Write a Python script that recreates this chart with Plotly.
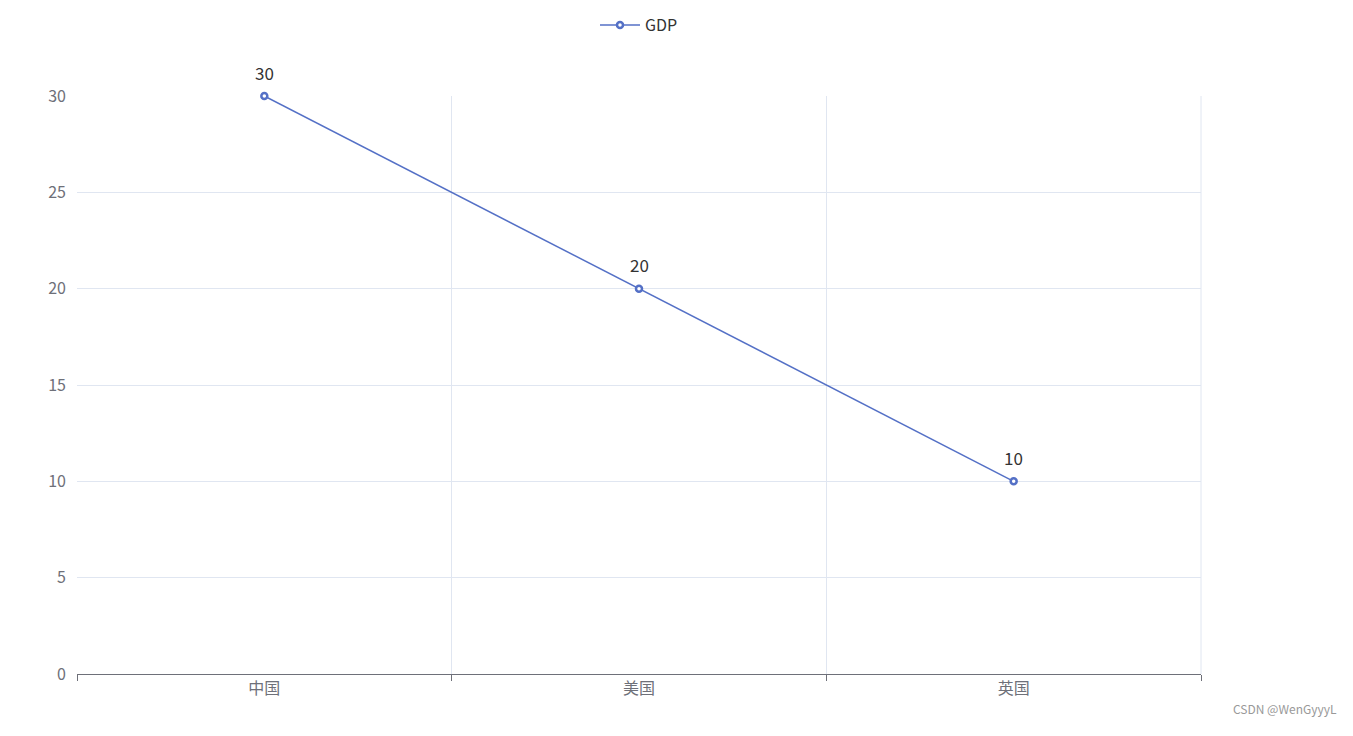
import plotly.graph_objects as go

categories = ["中国", "美国", "英国"]
gdp = [30, 20, 10]

fig = go.Figure()
fig.add_trace(go.Scatter(
    x=categories, y=gdp, name="GDP", mode="lines+markers",
    line=dict(color="#5470c6", width=1.5),
    marker=dict(symbol="circle", size=6, color="white", line=dict(color="#5470c6", width=2.5)),
    cliponaxis=False,
))
for c, v in zip(categories, gdp):
    fig.add_annotation(x=c, y=v, text=str(v), showarrow=False, yshift=24,
                       font=dict(size=17, color="#333"))
font = "Noto Sans CJK SC, Noto Sans, sans-serif"
fig.update_layout(
    width=1353, height=736, plot_bgcolor="white", paper_bgcolor="white",
    margin=dict(l=69, r=160, t=88, b=70),
    font=dict(family=font, size=16, color="#6E7079"),
    showlegend=True,
    legend=dict(orientation="h", x=0.5, xanchor="center", y=1.0, yref="container", yanchor="top",
                font=dict(size=16, color="#333"), itemwidth=40),
    xaxis=dict(type="category", tickson="boundaries", showgrid=True, gridcolor="#E0E6F1",
               showline=True, linecolor="#6E7079", ticks="outside", ticklen=6, tickcolor="#6E7079",
               range=[-0.5, 2.5], automargin=False),
    yaxis=dict(range=[0, 30], dtick=5, showgrid=True, gridcolor="#E0E6F1", zeroline=False,
               showline=False, ticklabelstandoff=10, automargin=False),
)
fig.add_shape(type="line", xref="paper", yref="paper", x0=1, x1=1, y0=0, y1=1,
              line=dict(color="#E0E6F1", width=1))
fig.add_annotation(text="CSDN @WenGyyyL", xref="paper", yref="paper", x=1.0, y=0, xshift=138,
                   yshift=-45, xanchor="right", showarrow=False,
                   font=dict(size=12, color="#999"))
fig.write_html("out.html")
